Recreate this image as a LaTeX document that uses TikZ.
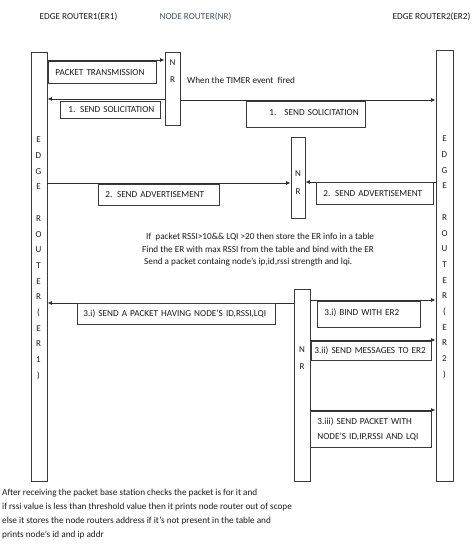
\documentclass[tikz,border=0pt]{standalone}
\usepackage{fontspec}
\setmainfont{Carlito}
\usetikzlibrary{arrows.meta}
\definecolor{lnc}{HTML}{2E2E2E}
\definecolor{boxc}{HTML}{3A3A3A}
\definecolor{nrblue}{HTML}{44546A}
\definecolor{txt}{HTML}{1A1A1A}
\begin{document}
\begin{tikzpicture}[x=1pt,y=-1pt,
  every node/.style={font=\fontsize{9.2}{10}\selectfont, text=txt},
  life/.style={draw=boxc, line width=0.9pt, fill=white, inner sep=0pt},
  msg/.style={draw=lnc, line width=0.9pt, -{Latex[length=4.5pt,width=4pt]}},
  lbl/.style={draw=boxc, line width=0.9pt, anchor=north west, inner sep=0pt, align=left},
  letter/.style={inner sep=0pt, font=\fontsize{9}{10}\selectfont},
  plain/.style={inner sep=0pt, anchor=west}]
\useasboundingbox (0,0) rectangle (474,551);

% headers
\node[inner sep=0pt] (h1) at (78.5,17) {EDGE ROUTER1(ER1)};
\node[inner sep=0pt, text=nrblue] (h2) at (195.5,17) {NODE ROUTER(NR)};
\node[inner sep=0pt] (h3) at (431.5,17) {EDGE ROUTER2(ER2)};

% lifeline boxes
\node[life, minimum width=16pt, minimum height=429pt] (er1) at (39,266.5) {};
\node[life, minimum width=17pt, minimum height=431pt] (er2) at (444.5,265.5) {};
\node[life, minimum width=15pt, minimum height=73pt] (nr1) at (172.5,88.5) {};
\node[life, minimum width=14pt, minimum height=81pt] (nr2) at (298,177.5) {};
\node[life, minimum width=16pt, minimum height=192pt] (nr3) at (302,385) {};

% lifeline letters
\foreach \c [count=\i from 0] in {E,D,G,E,{},R,O,U,T,E,R,{(},E,R,1,{)}} {
  \node[letter] (la\i) at (38.5,140+15.7*\i) {\c};
}
\foreach \c [count=\i from 0] in {E,D,G,E,{},R,O,U,T,E,R,{(},E,R,2,{)}} {
  \node[letter] (lb\i) at (444.5,139+15.7*\i) {\c};
}
\node[letter] (n1a) at (172.5,63) {N};
\node[letter] (n1b) at (172.5,80) {R};
\node[letter] (n2a) at (298,174) {N};
\node[letter] (n2b) at (298,192) {R};
\node[letter] (n3a) at (302,350) {N};
\node[letter] (n3b) at (302,367) {R};

% messages
\draw[msg] (er1.east |- 0,60) -- (nr1.west |- 0,60);
\draw[msg] (nr1.west |- 0,99) -- (er1.east |- 0,99);
\draw[msg] (nr1.east |- 0,100) -- (er2.west |- 0,100);
\draw[msg] (er1.east |- 0,183) -- (nr2.west |- 0,183);
\draw[msg] (er2.west |- 0,182) -- (nr2.east |- 0,182);
\draw[msg] (nr3.west |- 0,303) -- (er1.east |- 0,303);
\draw[msg] (nr3.east |- 0,300) -- (er2.west |- 0,300);
\draw[msg] (nr3.east |- 0,340) -- (er2.west |- 0,340);
\draw[msg] (nr3.east |- 0,410) -- (er2.west |- 0,410);

% label boxes
\node[lbl, minimum height=22pt, text width=94pt, inner xsep=7pt] (b1) at (48,61) {\mbox{PACKET TRANSMISSION}};
\node[lbl, minimum height=17pt, text width=84pt, inner xsep=8pt] (b2) at (60,101) {\mbox{1. SEND SOLICITATION}};
\node[lbl, minimum height=26pt, text width=73pt, inner xsep=23pt, text depth=4pt] (b3) at (246,101) {\mbox{1.\hspace{8pt}SEND SOLICITATION}};
\node[lbl, minimum height=21pt, text width=107pt, inner xsep=7pt] (b4) at (98,184) {\mbox{2. SEND ADVERTISEMENT}};
\node[lbl, minimum height=22pt, text width=103pt, inner xsep=7pt] (b5) at (316,182) {\mbox{2. SEND ADVERTISEMENT}};
\node[lbl, minimum height=21pt, text width=186pt, inner xsep=6pt] (b6) at (77,303) {\mbox{3.i) SEND A PACKET HAVING NODE'S ID,RSSI,LQI}};
\node[lbl, minimum height=26pt, text width=89pt, inner xsep=7pt, text depth=4pt] (b7) at (317,301) {\mbox{3.i) BIND WITH ER2}};
\node[lbl, minimum height=19pt, text width=114pt, inner xsep=3pt] (b8) at (311,341) {\mbox{3.ii) SEND MESSAGES TO ER2}};
\node[lbl, minimum height=36pt, text width=107pt, inner xsep=7pt, font=\fontsize{9.2}{15}\selectfont] (b9) at (310,411) {\mbox{3.iii) SEND PACKET WITH}\\\mbox{NODE'S ID,IP,RSSI AND LQI}};

% free texts
\node[plain] (t0) at (187,80) {When the TIMER event\ \ fired};
\node[plain] (t1) at (146,237) {If\ \ packet RSSI>10\&\& LQI >20 then store the ER info in a table};
\node[plain] (t2) at (142,249.5) {Find the ER with max RSSI from the table and bind with the ER};
\node[plain] (t3) at (144,262) {Send a packet containg node's ip,id,rssi strength and lqi.};

\node[plain] (f1) at (2,493) {After receiving the packet base station checks the packet is for it and};
\node[plain] (f2) at (2,507) {if rssi value is less than threshold value then it prints node router out of scope};
\node[plain] (f3) at (2,521) {else it stores the node routers address if it's not present in the table and};
\node[plain] (f4) at (2,535) {prints node's id and ip addr};
\end{tikzpicture}
\end{document}
